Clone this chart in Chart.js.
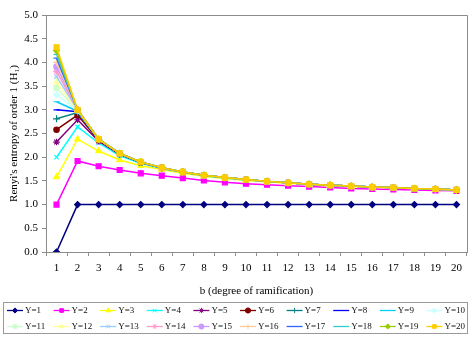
<!DOCTYPE html>
<html>
<head>
<meta charset="utf-8">
<script src="https://cdn.jsdelivr.net/npm/chart.js@4/dist/chart.umd.min.js"></script>
<style>
  html, body { margin: 0; padding: 0; background: #ffffff; }
  #wrap { width: 474px; height: 337px; position: relative; }
</style>
</head>
<body>
<div id="wrap"><canvas id="c" width="474" height="337"></canvas></div>
<script>
// degree of ramification b
const bLabels = ['1','2','3','4','5','6','7','8','9','10','11','12','13','14','15','16','17','18','19','20'];
const yTicks = [0, 0.5, 1, 1.5, 2, 2.5, 3, 3.5, 4, 4.5, 5];

// Renyi entropy of order 1 for each Y
const hY1  = [0.00, 1.00, 1.00, 1.00, 1.00, 1.00, 1.00, 1.00, 1.00, 1.00, 1.00, 1.00, 1.00, 1.00, 1.00, 1.00, 1.00, 1.00, 1.00, 1.00];
const hY2  = [1.00, 1.92, 1.81, 1.73, 1.66, 1.61, 1.56, 1.51, 1.47, 1.44, 1.42, 1.40, 1.38, 1.36, 1.34, 1.33, 1.32, 1.31, 1.30, 1.29];
const hY3  = [1.58, 2.38, 2.13, 1.94, 1.82, 1.74, 1.66, 1.60, 1.55, 1.51, 1.48, 1.45, 1.42, 1.40, 1.38, 1.37, 1.35, 1.34, 1.32, 1.31];
const hY4  = [2.00, 2.64, 2.30, 2.03, 1.87, 1.76, 1.68, 1.61, 1.56, 1.52, 1.49, 1.46, 1.43, 1.41, 1.39, 1.37, 1.36, 1.34, 1.33, 1.31];
const hY5  = [2.32, 2.79, 2.34, 2.06, 1.89, 1.77, 1.69, 1.62, 1.57, 1.53, 1.49, 1.46, 1.43, 1.41, 1.39, 1.37, 1.36, 1.34, 1.33, 1.31];
const hY6  = [2.58, 2.89, 2.36, 2.07, 1.89, 1.78, 1.69, 1.62, 1.57, 1.53, 1.49, 1.46, 1.43, 1.41, 1.39, 1.37, 1.36, 1.34, 1.33, 1.31];
const hY7  = [2.81, 2.94, 2.37, 2.08, 1.90, 1.78, 1.69, 1.62, 1.57, 1.53, 1.49, 1.46, 1.43, 1.41, 1.39, 1.37, 1.36, 1.34, 1.33, 1.31];
const hY8  = [3.00, 2.96, 2.37, 2.08, 1.90, 1.78, 1.69, 1.62, 1.57, 1.53, 1.49, 1.46, 1.43, 1.41, 1.39, 1.37, 1.36, 1.34, 1.33, 1.31];
const hY9  = [3.17, 2.97, 2.38, 2.08, 1.90, 1.78, 1.69, 1.62, 1.57, 1.53, 1.49, 1.46, 1.43, 1.41, 1.39, 1.37, 1.36, 1.34, 1.33, 1.31];
const hY10 = [3.32, 2.98, 2.38, 2.08, 1.90, 1.78, 1.69, 1.62, 1.57, 1.53, 1.49, 1.46, 1.43, 1.41, 1.39, 1.37, 1.36, 1.34, 1.33, 1.31];
const hY11 = [3.46, 2.99, 2.38, 2.08, 1.90, 1.78, 1.69, 1.62, 1.57, 1.53, 1.49, 1.46, 1.43, 1.41, 1.39, 1.37, 1.36, 1.34, 1.33, 1.31];
const hY12 = [3.58, 2.99, 2.38, 2.08, 1.90, 1.78, 1.69, 1.62, 1.57, 1.53, 1.49, 1.46, 1.43, 1.41, 1.39, 1.37, 1.36, 1.34, 1.33, 1.31];
const hY13 = [3.70, 3.00, 2.38, 2.08, 1.90, 1.78, 1.69, 1.62, 1.57, 1.53, 1.49, 1.46, 1.43, 1.41, 1.39, 1.37, 1.36, 1.34, 1.33, 1.31];
const hY14 = [3.81, 3.00, 2.38, 2.08, 1.90, 1.78, 1.69, 1.62, 1.57, 1.53, 1.49, 1.46, 1.43, 1.41, 1.39, 1.37, 1.36, 1.34, 1.33, 1.31];
const hY15 = [3.91, 3.00, 2.38, 2.08, 1.90, 1.78, 1.69, 1.62, 1.57, 1.53, 1.49, 1.46, 1.43, 1.41, 1.39, 1.37, 1.36, 1.34, 1.33, 1.31];
const hY16 = [4.00, 3.00, 2.38, 2.08, 1.90, 1.78, 1.69, 1.62, 1.57, 1.53, 1.49, 1.46, 1.43, 1.41, 1.39, 1.37, 1.36, 1.34, 1.33, 1.31];
const hY17 = [4.09, 3.00, 2.38, 2.08, 1.90, 1.78, 1.69, 1.62, 1.57, 1.53, 1.49, 1.46, 1.43, 1.41, 1.39, 1.37, 1.36, 1.34, 1.33, 1.31];
const hY18 = [4.17, 3.00, 2.38, 2.08, 1.90, 1.78, 1.69, 1.62, 1.57, 1.53, 1.49, 1.46, 1.43, 1.41, 1.39, 1.37, 1.36, 1.34, 1.33, 1.31];
const hY19 = [4.25, 3.00, 2.38, 2.08, 1.90, 1.78, 1.69, 1.62, 1.57, 1.53, 1.49, 1.46, 1.43, 1.41, 1.39, 1.37, 1.36, 1.34, 1.33, 1.31];
const hY20 = [4.32, 3.00, 2.38, 2.08, 1.90, 1.78, 1.69, 1.62, 1.57, 1.53, 1.49, 1.46, 1.43, 1.41, 1.39, 1.37, 1.36, 1.34, 1.33, 1.31];

const seriesNames = ['Y=1','Y=2','Y=3','Y=4','Y=5','Y=6','Y=7','Y=8','Y=9','Y=10',
                     'Y=11','Y=12','Y=13','Y=14','Y=15','Y=16','Y=17','Y=18','Y=19','Y=20'];
const seriesValues = [hY1, hY2, hY3, hY4, hY5, hY6, hY7, hY8, hY9, hY10,
                      hY11, hY12, hY13, hY14, hY15, hY16, hY17, hY18, hY19, hY20];

// line colours and marker shapes per series
const seriesColors = ['#000080','#FF00FF','#FFFF00','#00FFFF','#800080','#800000','#008080','#0000FF','#00CCFF','#CCFFFF',
                      '#CCFFCC','#FFFF99','#99CCFF','#FF99CC','#CC99FF','#FFCC99','#3366FF','#33CCCC','#99CC00','#FFCC00'];
const markerShapes = ['rectRot','rect','triangle','crossRot','star','circle','cross','line','line','rectRot',
                      'rect','triangle','crossRot','star','circle','cross','line','line','rectRot','rect'];
const markerRadius = { rectRot: 3, rect: 3.5, triangle: 3.3, crossRot: 3, star: 3.3, circle: 2.7, cross: 3.5, line: 3 };

const SERIF = "'Liberation Serif', 'Times New Roman', serif";

const datasets = seriesNames.map((name, i) => ({
  label: name,
  data: seriesValues[i],
  borderColor: seriesColors[i],
  backgroundColor: seriesColors[i],
  borderWidth: 1.5,
  pointStyle: markerShapes[i],
  pointRadius: markerRadius[markerShapes[i]],
  pointBorderWidth: 1.2,
  pointBackgroundColor: seriesColors[i],
  pointBorderColor: seriesColors[i],
  tension: 0,
  fill: false,
  order: seriesNames.length - 1 - i
}));

// grey frame around the plotting area
const plotFrame = {
  id: 'plotFrame',
  afterDraw(chart) {
    const { ctx, chartArea: a } = chart;
    ctx.save();
    ctx.strokeStyle = '#8c8c8c';
    ctx.lineWidth = 1;
    ctx.beginPath();
    ctx.moveTo(Math.round(a.left) + 0.5, Math.round(a.top) + 0.5);
    ctx.lineTo(Math.round(a.right) + 0.5, Math.round(a.top) + 0.5);
    ctx.lineTo(Math.round(a.right) + 0.5, Math.round(a.bottom) + 0.5);
    ctx.stroke();
    ctx.restore();
  }
};

// boxed legend: two rows of ten entries, line + marker + label
const gridLegend = {
  id: 'gridLegend',
  afterDraw(chart) {
    const { ctx } = chart;
    const box = { x: 3.5, y: 302.5, w: 464, h: 31 };
    ctx.save();
    ctx.strokeStyle = '#9a9a9a';
    ctx.lineWidth = 1;
    ctx.strokeRect(box.x, box.y, box.w, box.h);
    ctx.font = '9px ' + SERIF;
    ctx.textBaseline = 'middle';
    ctx.textAlign = 'left';
    const pitch = 46.6;
    chart.data.datasets.forEach((ds, i) => {
      const row = Math.floor(i / 10), col = i % 10;
      const tx = 25 + col * pitch;
      const cy = 310.5 + row * 16;
      ctx.strokeStyle = ds.borderColor;
      ctx.lineWidth = 1.3;
      ctx.beginPath();
      ctx.moveTo(tx - 18, cy);
      ctx.lineTo(tx - 2, cy);
      ctx.stroke();
      ctx.fillStyle = ds.borderColor;
      ctx.strokeStyle = ds.borderColor;
      ctx.lineWidth = 1;
      const opts = { pointStyle: ds.pointStyle, radius: Math.min(ds.pointRadius, 2.6), rotation: 0, borderWidth: 1 };
      if (Chart.helpers && Chart.helpers.drawPoint) {
        Chart.helpers.drawPoint(ctx, opts, tx - 10, cy);
      } else {
        ctx.beginPath(); ctx.arc(tx - 10, cy, 2.2, 0, Math.PI * 2); ctx.fill();
      }
      ctx.fillStyle = '#111111';
      ctx.fillText(ds.label, tx, cy + 0.5);
    });
    ctx.restore();
  }
};

new Chart(document.getElementById('c'), {
  type: 'line',
  data: { labels: bLabels, datasets },
  plugins: [plotFrame, gridLegend],
  options: {
    responsive: false,
    animation: false,
    devicePixelRatio: 1,
    layout: { padding: { top: 15, right: 7, bottom: 39, left: 0 } },
    plugins: { legend: { display: false }, tooltip: { enabled: false } },
    scales: {
      x: {
        type: 'category',
        offset: true,
        grid: { offset: true, drawOnChartArea: false, tickLength: 4, color: '#8c8c8c' },
        border: { color: '#8c8c8c', width: 1 },
        ticks: { color: '#000', font: { family: SERIF, size: 11 }, padding: 6, maxRotation: 0, autoSkip: false },
        title: { display: true, text: 'b (degree of ramification)', color: '#000',
                 font: { family: SERIF, size: 11 }, padding: { top: 4, bottom: 0 } },
        afterFit(s) { s.height = 46; }
      },
      y: {
        min: 0, max: 5,
        afterBuildTicks(s) { s.ticks = yTicks.map(v => ({ value: v })); },
        grid: { drawOnChartArea: false, tickLength: 4, color: '#8c8c8c' },
        border: { color: '#8c8c8c', width: 1 },
        ticks: { color: '#000', font: { family: SERIF, size: 11 }, padding: 4,
                 callback: v => Number(v).toFixed(1) },
        title: { display: true, text: 'Renyi\'s entropy of order 1 (H\u2081)', color: '#000',
                 font: { family: SERIF, size: 11 }, padding: { top: 8, bottom: 0 } },
        afterFit(s) { s.width = 46; }
      }
    }
  }
});
</script>
</body>
</html>
